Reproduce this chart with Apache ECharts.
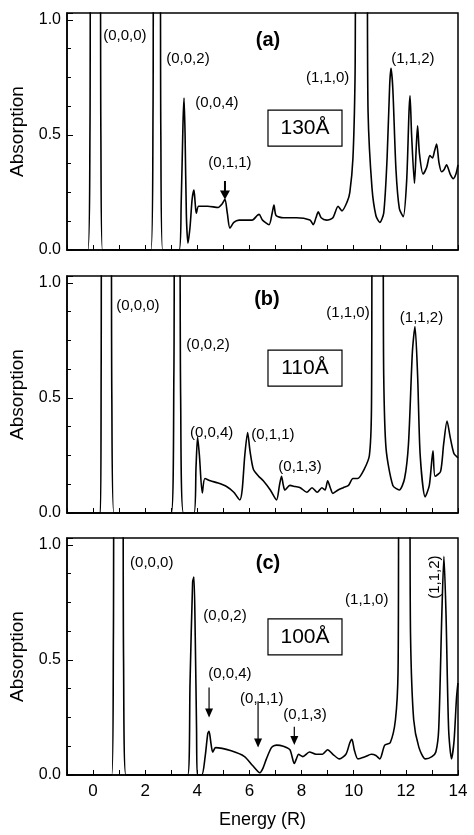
<!DOCTYPE html>
<html><head><meta charset="utf-8">
<script src="https://cdn.jsdelivr.net/npm/echarts@6/dist/echarts.min.js"></script>
<style>html,body{margin:0;padding:0;background:#fff}#c{width:474px;height:835px}</style>
</head><body><div id="c"></div>
<script>
const xTicks = [0,2,4,6,8,10,12,14];
const yTicks = [0.0,0.5,1.0];
const curveA = [[-1,0],[-0.2,0],[-0.12,0.5],[-0.08,1.5],[0.25,1.5],[0.3,0.5],[0.36,0],[2.22,0],[2.3,0.6],[2.33,1.5],[2.55,1.5],[2.6,0.5],[2.67,0],[3.3,0],[3.38,0.2],[3.45,0.55],[3.49,0.66],[3.53,0.5],[3.58,0.15],[3.64,0.03],[3.72,0.1],[3.8,0.22],[3.87,0.26],[3.92,0.2],[3.96,0.16],[4.05,0.19],[4.4,0.19],[4.8,0.185],[4.95,0.2],[5.06,0.22],[5.15,0.16],[5.25,0.095],[5.4,0.12],[5.6,0.13],[6.1,0.13],[6.3,0.15],[6.37,0.155],[6.5,0.13],[6.75,0.11],[6.87,0.16],[6.94,0.195],[7.02,0.15],[7.3,0.14],[7.8,0.14],[8.32,0.13],[8.45,0.11],[8.55,0.14],[8.64,0.166],[8.75,0.14],[8.96,0.13],[9.2,0.14],[9.4,0.19],[9.55,0.17],[9.75,0.21],[9.85,0.25],[9.97,0.4],[10.05,0.75],[10.11,1.5],[10.47,1.5],[10.55,0.6],[10.7,0.27],[10.85,0.15],[11.0,0.12],[11.15,0.16],[11.28,0.4],[11.38,0.72],[11.43,0.79],[11.5,0.7],[11.62,0.35],[11.75,0.18],[11.9,0.145],[12.03,0.3],[12.12,0.6],[12.16,0.67],[12.22,0.5],[12.33,0.29],[12.4,0.45],[12.45,0.54],[12.52,0.42],[12.66,0.33],[12.8,0.36],[12.92,0.41],[13.02,0.4],[13.1,0.43],[13.18,0.46],[13.27,0.38],[13.37,0.34],[13.47,0.35],[13.56,0.37],[13.7,0.33],[13.82,0.31],[13.92,0.33],[14,0.37]];
const curveB = [[-1,0],[0.28,0],[0.31,0.6],[0.34,1.5],[0.67,1.5],[0.72,0.5],[0.8,0],[3.0,0],[3.1,0.6],[3.15,1.5],[3.3,1.5],[3.36,0.5],[3.47,0],[3.87,0],[3.95,0.2],[4.01,0.33],[4.08,0.25],[4.19,0.087],[4.29,0.15],[4.5,0.14],[4.8,0.13],[5.12,0.115],[5.4,0.09],[5.63,0.057],[5.72,0.1],[5.82,0.25],[5.93,0.35],[6.02,0.27],[6.15,0.19],[6.35,0.16],[6.53,0.14],[6.8,0.1],[7.04,0.057],[7.15,0.12],[7.23,0.16],[7.3,0.12],[7.36,0.1],[7.55,0.12],[7.75,0.115],[7.95,0.11],[8.2,0.09],[8.4,0.11],[8.6,0.09],[8.78,0.11],[8.9,0.1],[9.0,0.14],[9.1,0.11],[9.2,0.085],[9.4,0.1],[9.6,0.11],[9.8,0.12],[9.97,0.15],[10.15,0.15],[10.4,0.19],[10.6,0.25],[10.68,0.45],[10.73,1.5],[11.09,1.5],[11.15,0.6],[11.24,0.28],[11.5,0.12],[11.75,0.1],[11.95,0.15],[12.1,0.3],[12.25,0.7],[12.35,0.81],[12.45,0.6],[12.55,0.25],[12.74,0.07],[12.9,0.12],[13.04,0.27],[13.12,0.16],[13.33,0.18],[13.45,0.3],[13.58,0.4],[13.7,0.33],[13.84,0.26],[14,0.24]];
const curveC = [[-1,0],[0.72,0],[0.78,0.6],[0.82,1.5],[1.12,1.5],[1.17,0.5],[1.26,0],[3.63,0],[3.72,0.4],[3.82,0.84],[3.87,0.86],[3.92,0.6],[3.97,0.2],[4.0,0],[4.17,0],[4.3,0.08],[4.4,0.18],[4.45,0.19],[4.52,0.14],[4.59,0.1],[4.7,0.119],[5.3,0.105],[5.81,0.08],[6.13,0.04],[6.4,0.01],[6.52,0.03],[6.65,0.07],[6.85,0.12],[7.04,0.13],[7.3,0.125],[7.55,0.11],[7.72,0.05],[7.8,0.07],[7.88,0.09],[8.05,0.08],[8.3,0.1],[8.55,0.09],[8.8,0.09],[9.0,0.11],[9.2,0.09],[9.45,0.07],[9.7,0.09],[9.85,0.14],[9.93,0.155],[10.02,0.11],[10.16,0.07],[10.45,0.08],[10.67,0.09],[10.85,0.085],[11.0,0.07],[11.19,0.13],[11.4,0.14],[11.6,0.24],[11.7,0.45],[11.76,1.5],[12.11,1.5],[12.18,0.6],[12.3,0.24],[12.5,0.12],[12.75,0.07],[13.0,0.08],[13.15,0.1],[13.26,0.2],[13.38,0.7],[13.46,0.95],[13.54,0.7],[13.64,0.2],[13.75,0.07],[13.85,0.15],[13.94,0.33],[14,0.4]];
const curves = [curveA, curveB, curveC];
const panelTags = ['(a)','(b)','(c)'];
const thick = ['130Å','110Å','100Å'];
const labelsA = [['(0,0,0)',1.22,0.93],['(0,0,2)',3.64,0.83],['(0,0,4)',4.75,0.64],['(0,1,1)',5.25,0.38],['(1,1,0)',9.0,0.75],['(1,1,2)',12.27,0.83]];
const labelsB = [['(0,0,0)',1.72,0.9],['(0,0,2)',4.41,0.73],['(0,0,4)',4.55,0.35],['(0,1,1)',6.9,0.34],['(0,1,3)',7.94,0.2],['(1,1,0)',9.78,0.87],['(1,1,2)',12.6,0.85]];
const labelsC = [['(0,0,0)',2.25,0.92],['(0,0,2)',5.06,0.69],['(0,0,4)',5.25,0.44],['(0,1,1)',6.47,0.33],['(0,1,3)',8.13,0.26],['(1,1,0)',10.5,0.76]];
const labels = [labelsA, labelsB, labelsC];
const tagPos = [[6.71,0.91],[6.67,0.93],[6.71,0.92]];
const boxPos = [[8.13,0.53],[8.13,0.63],[8.13,0.6]];
const arrows = [[0,5.06,0.30,0.22,true],[2,4.45,0.38,0.25,false],[2,6.33,0.32,0.12,false],[2,7.72,0.21,0.13,false]];

const tops = [13,276,538];
const grids = tops.map(t=>({left:67,right:16,top:t,height:237,show:true,borderColor:'#000',borderWidth:1.5}));
const font = 'Liberation Sans';
const xAxes = tops.map((t,i)=>({type:'value',gridIndex:i,min:-1,max:14,interval:1,
  axisLine:{onZero:false,lineStyle:{color:'#000',width:1.5}},
  axisTick:{inside:true,length:5,lineStyle:{color:'#000'}},splitLine:{show:false},
  axisLabel:{show:i===2,color:'#000',fontSize:17,fontFamily:font,margin:8,formatter:v=>xTicks.includes(v)?String(v):''},
  name:i===2?'Energy (R)':'',nameLocation:'middle',nameGap:36,nameTextStyle:{color:'#000',fontSize:18,fontFamily:font}}));
const yAxes = tops.map((t,i)=>({type:'value',gridIndex:i,min:0,max:1.03,interval:0.5,
  axisLine:{onZero:false,lineStyle:{color:'#000',width:1.5}},
  axisTick:{inside:true,length:6,lineStyle:{color:'#000'}},
  minorTick:{show:true,splitNumber:4,length:4,lineStyle:{color:'#000'}},
  splitLine:{show:false},
  axisLabel:{color:'#000',fontSize:16,fontFamily:font,margin:6,formatter:v=>yTicks.includes(v)?v.toFixed(1):''},
  name:'Absorption',nameLocation:'middle',nameGap:40,nameTextStyle:{color:'#000',fontSize:19,fontFamily:font}}));
const series = curves.map((d,i)=>({type:'line',xAxisIndex:i,yAxisIndex:i,data:d,showSymbol:false,smooth:0.25,clip:true,
  lineStyle:{color:'#000',width:1.6},animation:false}));
const chart = echarts.init(document.getElementById('c'));
chart.setOption({animation:false,grid:grids,xAxis:xAxes,yAxis:yAxes,series});

const g = [];
const px = (i,x,y)=>chart.convertToPixel({xAxisIndex:i,yAxisIndex:i},[x,y]);
labels.forEach((ls,i)=>ls.forEach(([t,x,y])=>{const p=px(i,x,y);
  g.push({type:'text',x:p[0],y:p[1],style:{text:t,fontSize:15,fontFamily:font,fill:'#000',align:'center',verticalAlign:'middle'},z:10});}));
{const p=px(2,13.12,0.86);g.push({type:'text',x:p[0],y:p[1],rotation:Math.PI/2,style:{text:'(1,1,2)',fontSize:15,fontFamily:font,fill:'#000',align:'center',verticalAlign:'middle'},z:10});}
tagPos.forEach(([x,y],i)=>{const p=px(i,x,y);g.push({type:'text',x:p[0],y:p[1],style:{text:panelTags[i],fontSize:20,fontWeight:'bold',fontFamily:font,fill:'#000',align:'center',verticalAlign:'middle'},z:10});});
boxPos.forEach(([x,y],i)=>{const p=px(i,x,y);
  g.push({type:'rect',shape:{x:p[0]-37,y:p[1]-18,width:74,height:36},style:{fill:'#fff',stroke:'#000',lineWidth:1.2},z:9});
  g.push({type:'text',x:p[0],y:p[1],style:{text:thick[i],fontSize:21,fontFamily:font,fill:'#000',align:'center',verticalAlign:'middle'},z:10});});
arrows.forEach(([i,x,y0,y1,b])=>{const a=px(i,x,y0),c=px(i,x,y1);const hw=b?5:4,hl=9;
  g.push({type:'line',shape:{x1:a[0],y1:a[1],x2:c[0],y2:c[1]-hl+1},style:{stroke:'#000',lineWidth:b?2:1.2},z:10});
  g.push({type:'polygon',shape:{points:[[c[0]-hw,c[1]-hl],[c[0]+hw,c[1]-hl],[c[0],c[1]]]},style:{fill:'#000'},z:10});});
chart.setOption({graphic:g});
</script></body></html>
